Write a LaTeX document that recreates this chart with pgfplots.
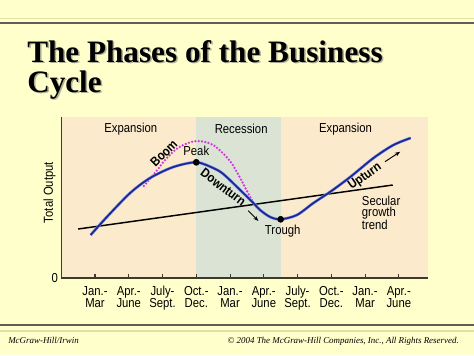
\documentclass[border=0pt]{standalone}
\usepackage{pgfplots}
\usepackage{pgfplotstable}
\pgfplotsset{compat=1.18}
\usetikzlibrary{arrows.meta}
\usepackage{fontspec}
\setmainfont{Liberation Sans}
\newfontfamily\chartfont[FakeStretch=0.87]{Liberation Sans}
\newfontfamily\titlefont{Liberation Serif}
\definecolor{pagebg}{RGB}{255,255,204}
\definecolor{expcol}{RGB}{251,235,204}
\definecolor{reccol}{RGB}{219,228,212}
\definecolor{bluecol}{RGB}{28,38,150}
\definecolor{bluehalo}{RGB}{120,140,225}
\definecolor{magcol}{RGB}{214,50,222}
\definecolor{axiscol}{RGB}{60,60,40}
\definecolor{lightline}{RGB}{225,225,165}
\definecolor{darkline}{RGB}{95,95,85}
\definecolor{shadowcol}{RGB}{175,175,150}

\pgfplotstableread{
x y
0.87 43
1.35 61
2.04 85
2.63 100
3.32 111
4.0 115.7
4.5 110
4.8 104
5.3 88
5.69 75
5.89 68
6.19 61
6.5 58.7
6.98 63
7.47 75
7.96 86
8.56 101
9.25 120
9.84 133
10.35 140
}\bluedata

\pgfplotstableread{
x y
2.45 92
2.8 106
3.1 119
3.5 131
4.0 137
4.5 133
5.0 117
5.3 100
5.5 87
5.7 75
}\boomdata

\pgfplotstableread{
x y
0.5 49
9.82 93
}\trenddata

\newcommand{\cf}{\chartfont\fontsize{9.75}{9}\selectfont}

\begin{document}
\begin{tikzpicture}[x=0.75pt,y=-0.75pt]
\fill[pagebg] (0,0) rectangle (474,355);
\draw[lightline, line width=1pt] (0,18.3) -- (474,18.3);
\draw[darkline, line width=1.4pt] (0,23.3) -- (474,23.3);
\draw[darkline, line width=1.4pt] (0,325) -- (474,325);
\draw[lightline, line width=1pt] (0,331) -- (474,331);

\foreach \t/\yy in {{The Phases of the Business}/62, {Cycle}/92}{
  \node[anchor=base west, inner sep=0, text=shadowcol, font=\titlefont\bfseries\fontsize{23.4}{28}\selectfont] at (28.5,\yy+1.5) {\t};
  \node[anchor=base west, inner sep=0, text=black, font=\titlefont\bfseries\fontsize{23.4}{28}\selectfont] at (27,\yy) {\t};
}

\node[anchor=base west, inner sep=0, font=\titlefont\itshape\fontsize{6.7}{8}\selectfont] at (8,343) {McGraw-Hill/Irwin};
\node[anchor=base east, inner sep=0, font=\titlefont\itshape\fontsize{6.7}{8}\selectfont] at (459,343) {© 2004 The McGraw-Hill Companies, Inc., All Rights Reserved.};

\begin{axis}[
  at={(45.94pt,-208.5pt)}, anchor=south west,
  scale only axis, width=275.2pt, height=120.75pt,
  xmin=0, xmax=10.87, ymin=0, ymax=161,
  axis lines=left, axis line style={-, draw=axiscol, line width=0.8pt},
  axis on top, clip=false,
  xtick={1,...,10},
  xticklabels={{Jan.-\\Mar},{Apr.-\\June},{July-\\Sept.},{Oct.-\\Dec.},{Jan.-\\Mar},{Apr.-\\June},{July-\\Sept.},{Oct.-\\Dec.},{Jan.-\\Mar},{Apr.-\\June}},
  xticklabel style={align=center, font=\cf, yshift=-2.5pt},
  tick align=inside, major tick length=3pt,
  xtick style={draw=axiscol, line width=0.8pt},
  ytick={0}, yticklabels={0}, ytick style={draw=none},
  yticklabel style={font=\cf, xshift=1pt},
  /pgf/number format/assume math mode=true,
]
\addplot[fill=expcol, draw=none] coordinates {(0,161) (4,161)} \closedcycle;
\addplot[fill=reccol, draw=none] coordinates {(4,161) (6.5,161)} \closedcycle;
\addplot[fill=expcol, draw=none] coordinates {(6.5,161) (10.87,161)} \closedcycle;

\addplot[black, line width=1.1pt] table[x=x,y=y] {\trenddata};
\addplot[magcol, line width=1.9pt, line cap=round, dash pattern=on 0pt off 2.5pt, smooth] table[x=x,y=y] {\boomdata};
\addplot[bluehalo, line width=2.1pt, smooth] table[x=x,y=y] {\bluedata};
\addplot[bluecol, line width=1.25pt, smooth] table[x=x,y=y] {\bluedata};
\addplot[only marks, mark=*, mark size=2.3pt, black] coordinates {(4,115.7) (6.5,58.7)};

\node[font=\cf] at (axis cs:2.06,149) {Expansion};
\node[font=\cf] at (axis cs:5.33,149) {Recession};
\node[font=\cf] at (axis cs:8.42,149) {Expansion};
\node[font=\cf] at (axis cs:4,127) {Peak};
\node[font=\cf\bfseries, rotate=45] at (axis cs:3.04,124.7) {Boom};
\node[font=\cf\bfseries, rotate=-37] at (axis cs:4.8,90.7) {Downturn};
\node[font=\cf] at (axis cs:6.56,46.5) {Trough};
\node[font=\cf\bfseries, rotate=35] at (axis cs:9.0,101.3) {Upturn};
\node[font=\chartfont\fontsize{9.75}{8.3}\selectfont, align=left, anchor=north west, inner sep=0] at (axis cs:8.9,82.5) {Secular\\growth\\trend};
\node[font=\cf, rotate=90] at (axis cs:-0.348,85.5) {Total Output};

\draw[-{Stealth[length=4pt,width=3pt]}, line width=0.7pt] (axis cs:5.54,67.3) -- (axis cs:5.84,57);
\draw[-{Stealth[length=4pt,width=3pt]}, line width=0.7pt] (axis cs:9.59,116.3) -- (axis cs:10.04,126.3);
\end{axis}
\pgfresetboundingbox
\useasboundingbox (0,0) rectangle (474,355);
\end{tikzpicture}
\end{document}
